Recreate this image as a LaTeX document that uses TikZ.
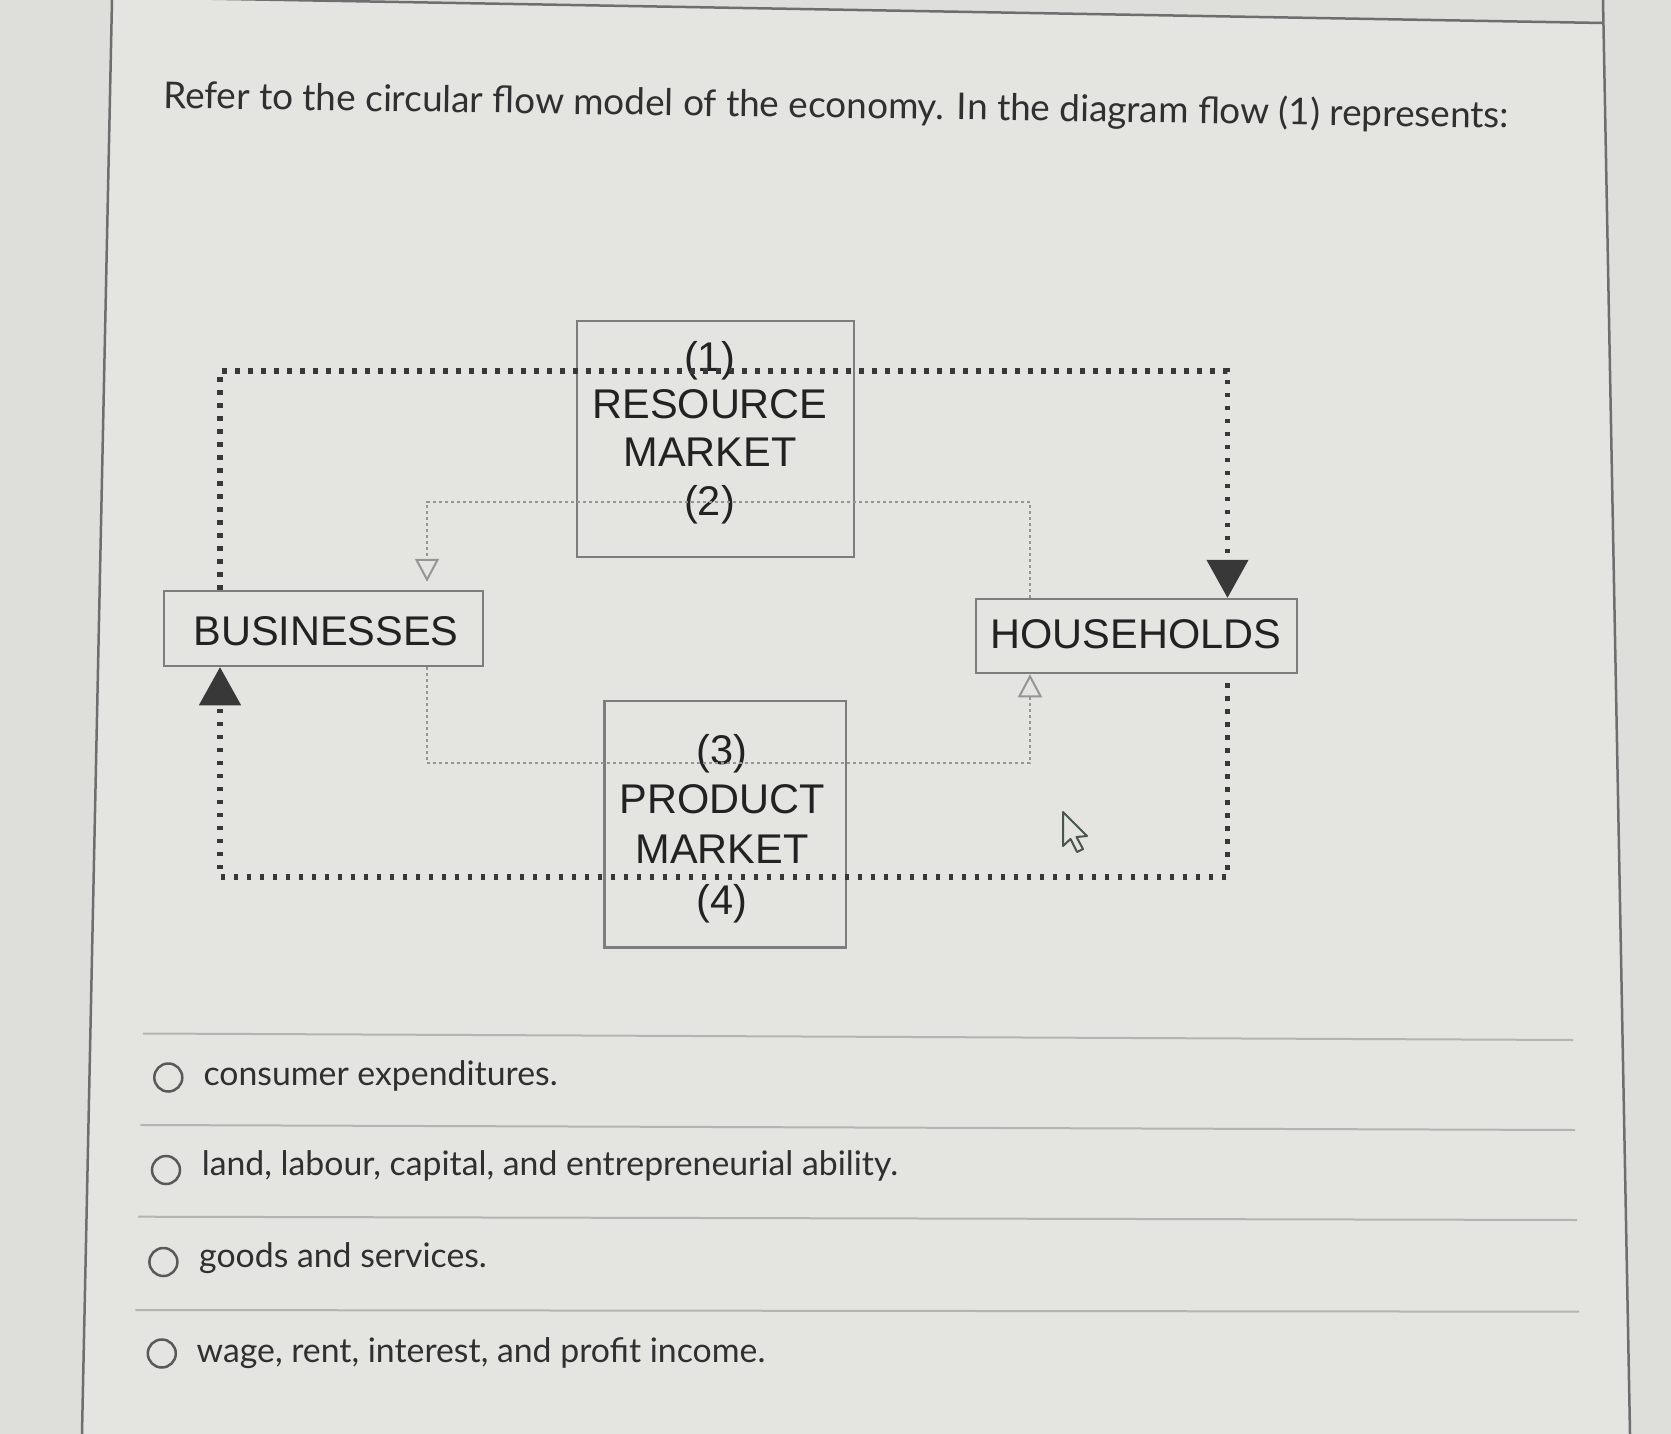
\documentclass[tikz,border=0pt]{standalone}
\usepackage{fontspec}
\newfontfamily\latofont{Lato}
\newfontfamily\arialfont{Liberation Sans}
\usetikzlibrary{arrows.meta}
\definecolor{bgcol}{HTML}{DEDEDA}
\definecolor{cardcol}{HTML}{E4E4E1}
\definecolor{framecol}{HTML}{6E6E6E}
\definecolor{boxcol}{HTML}{7D7D7D}
\definecolor{dotcol}{HTML}{383838}
\definecolor{thincol}{HTML}{959595}
\definecolor{txtcol}{HTML}{222222}
\definecolor{qcol}{HTML}{303030}
\definecolor{sepcol}{HTML}{B4B4B2}
\definecolor{curcol}{HTML}{4A564A}
\tikzset{
  mbox/.style={draw=boxcol, line width=2.5pt, rectangle, inner sep=0pt},
  dlabel/.style={anchor=base, inner sep=0pt, text=txtcol, font=\arialfont\fontsize{41.5}{48}\selectfont},
  thickdot/.style={draw=dotcol, line width=5.5pt, dash pattern=on 4.5pt off 8.5pt},
  thindot/.style={draw=thincol, line width=2.4pt, dash pattern=on 3pt off 3pt},
  blacktip/.style={-{Triangle[width=42pt,length=38pt,line width=1pt]}},
  hollowtip/.style={-{Triangle[open,width=24pt,length=23pt,line width=2pt]}},
  radio/.style={circle, draw=black!65, line width=2.5pt, minimum size=28pt, inner sep=0pt},
  opt/.style={anchor=base west, inner sep=0pt, text=qcol, font=\latofont\fontsize{33.8}{40}\selectfont},
  sep/.style={draw=sepcol, line width=2pt},
  frame/.style={draw=framecol, line width=2.5pt}
}
\begin{document}
\begin{tikzpicture}[x=1pt,y=-1pt]
\useasboundingbox (0,0) rectangle (1671,1434);
\fill[bgcol] (0,0) rectangle (1671,1434);
\fill[cardcol] (112,-3) -- (1603,23) -- (1630,1434) -- (82,1434) -- cycle;
\draw[frame] (112,0) -- (82,1434);
\draw[frame] (1603,0) -- (1630,1434);
\draw[frame] (112,-3) -- (1603,23);

% question
\node[anchor=base west, inner sep=0pt, text=qcol, rotate=-0.85,
      font=\latofont\fontsize{36.9}{44}\selectfont] (title) at (163,108)
  {Refer to the circular flow model of the economy. In the diagram flow (1) represents:};

% boxes
\node[mbox, minimum width=277pt, minimum height=236pt] (rm) at (715.7,439) {};
\node[mbox, minimum width=241.5pt, minimum height=246.5pt] (pm) at (725.3,824) {};
\node[mbox, minimum width=319pt, minimum height=75pt] (bus) at (323.5,628.5) {};
\node[mbox, minimum width=321pt, minimum height=74pt] (hh) at (1136.5,636) {};

% labels
\node[dlabel] (rm1) at (709.5,371) {(1)};
\node[dlabel] (rm2) at (710,418.3) {RESOURCE};
\node[dlabel] (rm3) at (710,466.7) {MARKET};
\node[dlabel] (rm4) at (709.5,515) {(2)};
\node[dlabel] (pm1) at (722,764) {(3)};
\node[dlabel] (pm2) at (722,813.3) {PRODUCT};
\node[dlabel] (pm3) at (722,863.3) {MARKET};
\node[dlabel] (pm4) at (722,914) {(4)};
\node[dlabel] (busl) at (326,645) {BUSINESSES};
\node[dlabel] (hhl) at (1135.8,648.3) {HOUSEHOLDS};

% corner coordinates
\coordinate (tl) at (220,371);
\coordinate (tr) at (1227.5,371);
\coordinate (bl) at (220,877);
\coordinate (br) at (1227.5,877);
\coordinate (ul) at (427,502);
\coordinate (ur) at (1030,502);
\coordinate (ll) at (427,763);
\coordinate (lr) at (1030,763);

% thin flows
\draw[thindot, hollowtip, shorten >=8pt] (ur |- hh.north) -- (ur) -- (ul) -- (ul |- bus.north);
\draw[thindot, hollowtip] (ll |- bus.south) -- (ll) -- (lr) -- (lr |- hh.south);

% thick flows
\draw[thickdot, blacktip] (tl |- bus.north) -- (tl) -- (tr) -- (tr |- hh.north);
\draw[thickdot, blacktip, shorten <=9pt] (br |- hh.south) -- (br) -- (bl) -- (bl |- bus.south);

% cursor
\draw[draw=curcol, fill=cardcol, line width=2pt, line join=round]
  (1063,812) -- ++(0,34) -- ++(7.5,-7) -- ++(6.5,13) -- ++(6,-3) -- ++(-6.5,-12) -- ++(10.5,-1) -- cycle;

% separators
\draw[sep] (143,1033.5) -- (1573,1040);
\draw[sep] (140.4,1125) -- (1575,1130);
\draw[sep] (138,1216.7) -- (1577,1220);
\draw[sep] (135.3,1310) -- (1579,1311.7);

% options
\node[radio] (r1) at (168.3,1077.5) {};
\node[radio] (r2) at (166,1170) {};
\node[radio] (r3) at (163.4,1262) {};
\node[radio] (r4) at (161.8,1353.5) {};
\node[opt] (o1) at (203.3,1085) {consumer expenditures.};
\node[opt] (o2) at (201.6,1175.5) {land, labour, capital, and entrepreneurial ability.};
\node[opt] (o3) at (199,1267) {goods and services.};
\node[opt] (o4) at (196.5,1362) {wage, rent, interest, and profit income.};
\end{tikzpicture}
\end{document}
